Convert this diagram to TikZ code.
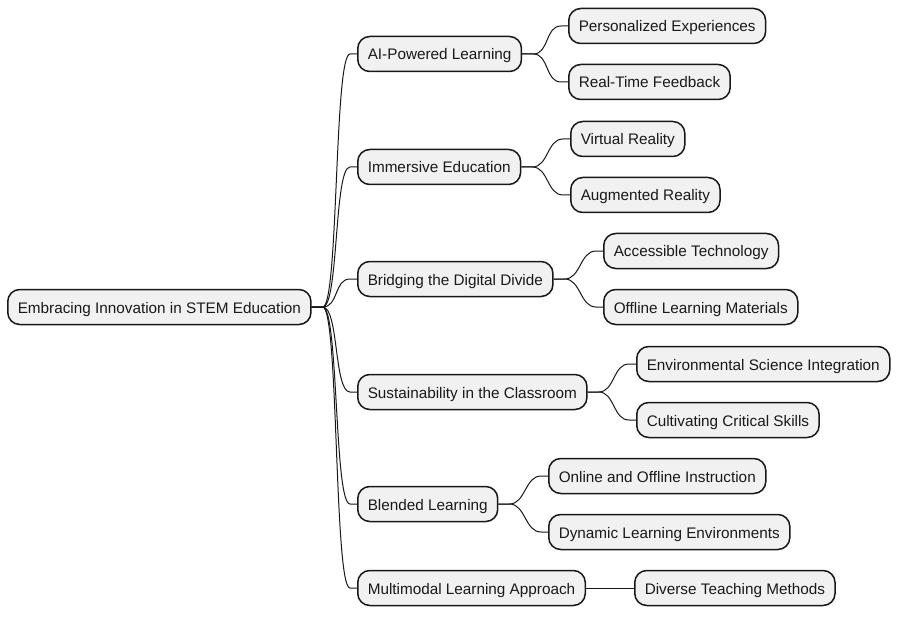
\documentclass[tikz,border=0pt]{standalone}
\usepackage{fontspec}
\setmainfont{Liberation Sans}
\usetikzlibrary{calc}
\definecolor{boxfill}{HTML}{F1F1F1}
\definecolor{boxline}{HTML}{181818}
\tikzset{
  mmbox/.style={draw=boxline, fill=boxfill, line width=1.5bp, rounded corners=12bp,
    anchor=west, inner xsep=10bp, inner ysep=0pt, minimum height=35bp,
    text height=13.5bp, text depth=1.5bp,
    font=\fontsize{15.3bp}{18bp}\selectfont, text=black!90},
  link/.style={draw=boxline, line width=1bp}
}
\newcommand{\mmlink}[3]{%
  \draw[link] (#1.east) -- ++(#3,0) .. controls +(16,0) and +(-16,0) .. ($(#2.west)+(-7,0)$) -- (#2.west);}
\begin{document}
\begin{tikzpicture}[x=1bp,y=-1bp]
\useasboundingbox (0,0) rectangle (898,618);
\node[mmbox] (root) at (7,307) {Embracing Innovation in STEM Education};
\node[mmbox] (ai) at (357,54) {AI-Powered Learning};
\node[mmbox] (pe) at (568,26) {Personalized Experiences};
\node[mmbox] (rt) at (568,82) {Real-Time Feedback};
\node[mmbox] (ie) at (357,167) {Immersive Education};
\node[mmbox] (vr) at (570,139) {Virtual Reality};
\node[mmbox] (ar) at (570,195) {Augmented Reality};
\node[mmbox] (bd) at (357,279) {Bridging the Digital Divide};
\node[mmbox] (at) at (603,251) {Accessible Technology};
\node[mmbox] (ol) at (603,307) {Offline Learning Materials};
\node[mmbox] (sc) at (357,392) {Sustainability in the Classroom};
\node[mmbox] (es) at (636,364) {Environmental Science Integration};
\node[mmbox] (cc) at (636,420) {Cultivating Critical Skills};
\node[mmbox] (bl) at (357,504) {Blended Learning};
\node[mmbox] (oo) at (548,476) {Online and Offline Instruction};
\node[mmbox] (dl) at (548,532) {Dynamic Learning Environments};
\node[mmbox] (ml) at (357,588) {Multimodal Learning Approach};
\node[mmbox] (dt) at (634,588) {Diverse Teaching Methods};
\mmlink{root}{ai}{11}
\mmlink{root}{ie}{11}
\mmlink{root}{bd}{11}
\mmlink{root}{sc}{11}
\mmlink{root}{bl}{11}
\mmlink{root}{ml}{11}
\mmlink{ai}{pe}{11}
\mmlink{ai}{rt}{11}
\mmlink{ie}{vr}{11}
\mmlink{ie}{ar}{11}
\mmlink{bd}{at}{11}
\mmlink{bd}{ol}{11}
\mmlink{sc}{es}{11}
\mmlink{sc}{cc}{11}
\mmlink{bl}{oo}{11}
\mmlink{bl}{dl}{11}
\draw[link] (ml.east) -- (dt.west);
\end{tikzpicture}
\end{document}
